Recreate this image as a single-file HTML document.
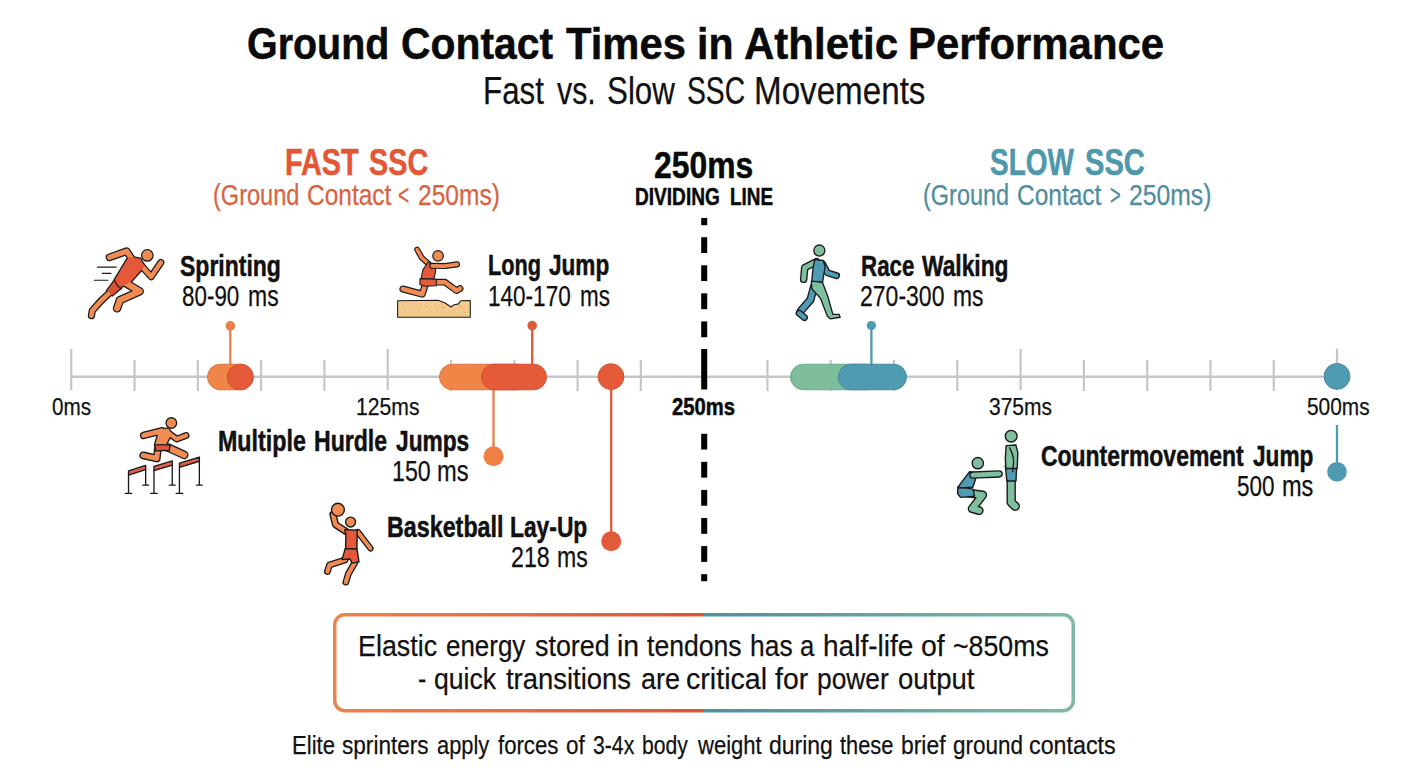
<!DOCTYPE html>
<html><head><meta charset="utf-8"><style>
html,body{margin:0;padding:0;background:#fff;}
body{width:1408px;height:768px;position:relative;overflow:hidden;font-family:"Liberation Sans",sans-serif;}
.t{position:absolute;white-space:nowrap;transform-origin:0 0;}
svg{position:absolute;left:0;top:0;}
</style></head><body>
<svg width="1408" height="768" viewBox="0 0 1408 768"><defs><linearGradient id="bg" x1="333" y1="0" x2="1075" y2="0" gradientUnits="userSpaceOnUse">
<stop offset="0" stop-color="#e8854c"/><stop offset="0.5" stop-color="#d6573f"/><stop offset="0.5" stop-color="#4f8fa3"/><stop offset="1" stop-color="#80b9a2"/></linearGradient></defs>
<rect x="334.75" y="614.75" width="738.5" height="96" rx="10" fill="none" stroke="url(#bg)" stroke-width="3.5"/><line x1="71" y1="376.7" x2="1337" y2="376.7" stroke="#c6c6c6" stroke-width="2.6"/><line x1="71.25" y1="349" x2="71.25" y2="390" stroke="#c6c6c6" stroke-width="2.2"/><line x1="134.54" y1="360" x2="134.54" y2="391" stroke="#c6c6c6" stroke-width="2.2"/><line x1="197.83" y1="360" x2="197.83" y2="391" stroke="#c6c6c6" stroke-width="2.2"/><line x1="261.12" y1="360" x2="261.12" y2="391" stroke="#c6c6c6" stroke-width="2.2"/><line x1="324.41" y1="360" x2="324.41" y2="391" stroke="#c6c6c6" stroke-width="2.2"/><line x1="387.70" y1="349" x2="387.70" y2="390" stroke="#c6c6c6" stroke-width="2.2"/><line x1="450.99" y1="360" x2="450.99" y2="391" stroke="#c6c6c6" stroke-width="2.2"/><line x1="514.28" y1="360" x2="514.28" y2="391" stroke="#c6c6c6" stroke-width="2.2"/><line x1="577.57" y1="360" x2="577.57" y2="391" stroke="#c6c6c6" stroke-width="2.2"/><line x1="640.86" y1="360" x2="640.86" y2="391" stroke="#c6c6c6" stroke-width="2.2"/><line x1="767.44" y1="360" x2="767.44" y2="391" stroke="#c6c6c6" stroke-width="2.2"/><line x1="830.73" y1="360" x2="830.73" y2="391" stroke="#c6c6c6" stroke-width="2.2"/><line x1="894.02" y1="360" x2="894.02" y2="391" stroke="#c6c6c6" stroke-width="2.2"/><line x1="957.31" y1="360" x2="957.31" y2="391" stroke="#c6c6c6" stroke-width="2.2"/><line x1="1020.60" y1="349" x2="1020.60" y2="390" stroke="#c6c6c6" stroke-width="2.2"/><line x1="1083.89" y1="360" x2="1083.89" y2="391" stroke="#c6c6c6" stroke-width="2.2"/><line x1="1147.18" y1="360" x2="1147.18" y2="391" stroke="#c6c6c6" stroke-width="2.2"/><line x1="1210.47" y1="360" x2="1210.47" y2="391" stroke="#c6c6c6" stroke-width="2.2"/><line x1="1273.76" y1="360" x2="1273.76" y2="391" stroke="#c6c6c6" stroke-width="2.2"/><line x1="1337.05" y1="349" x2="1337.05" y2="390" stroke="#c6c6c6" stroke-width="2.2"/><rect x="701.2" y="218" width="6" height="7.2" fill="#000"/><rect x="701.2" y="237.20" width="6" height="15.80" fill="#000"/><rect x="701.2" y="265.28" width="6" height="15.80" fill="#000"/><rect x="701.2" y="293.36" width="6" height="15.80" fill="#000"/><rect x="701.2" y="321.44" width="6" height="15.80" fill="#000"/><rect x="701.2" y="433.76" width="6" height="15.80" fill="#000"/><rect x="701.2" y="461.84" width="6" height="15.80" fill="#000"/><rect x="701.2" y="489.92" width="6" height="15.80" fill="#000"/><rect x="701.2" y="518.00" width="6" height="15.80" fill="#000"/><rect x="701.2" y="546.08" width="6" height="15.80" fill="#000"/><rect x="701.2" y="574.16" width="6" height="7.04" fill="#000"/><rect x="701.2" y="349" width="6" height="40.5" fill="#000"/><line x1="230.3" y1="326" x2="230.3" y2="366" stroke="#e8804a" stroke-width="2.3"/><circle cx="230.3" cy="325.9" r="4.8" fill="#e8804a"/><rect x="207.5" y="364.25" width="45.80000000000001" height="25.5" rx="12.75" fill="#ef8547" stroke="#dc7442" stroke-width="1"/><rect x="227.2" y="364.25" width="26.100000000000023" height="25.5" rx="12.75" fill="#e55a39" stroke="#cf5236" stroke-width="1"/><line x1="532.2" y1="326" x2="532.2" y2="366" stroke="#df5a3a" stroke-width="2.3"/><circle cx="532.2" cy="325.6" r="4.8" fill="#df5a3a"/><line x1="493.5" y1="388" x2="493.5" y2="456" stroke="#e9804a" stroke-width="2.3"/><circle cx="493.5" cy="456.2" r="10" fill="#ef7f45"/><rect x="439.5" y="364.25" width="90" height="25.5" rx="12.75" fill="#ef8547" stroke="#dc7442" stroke-width="1"/><rect x="481.5" y="364.25" width="65" height="25.5" rx="12.75" fill="#e55a39" stroke="#cf5236" stroke-width="1"/><line x1="611.2" y1="388" x2="611.2" y2="541" stroke="#e05a3a" stroke-width="2.3"/><circle cx="611.2" cy="541.2" r="10" fill="#e35a3a"/><circle cx="611" cy="376.6" r="12.9" fill="#e55a39" stroke="#cf5236" stroke-width="1"/><line x1="871.4" y1="326" x2="871.4" y2="366" stroke="#4f9ab0" stroke-width="2.3"/><circle cx="871.4" cy="325.6" r="4.6" fill="#4f9ab0"/><rect x="790.5" y="364.25" width="89" height="25.5" rx="12.75" fill="#7dbd9c" stroke="#6ca98c" stroke-width="1"/><rect x="838.2" y="364.25" width="68.29999999999995" height="25.5" rx="12.75" fill="#4f9bb2" stroke="#468aa0" stroke-width="1"/><line x1="1337" y1="348.6" x2="1337" y2="377" stroke="#c6c6c6" stroke-width="2.2"/><circle cx="1337" cy="376.4" r="12.9" fill="#4f9bb2" stroke="#468aa0" stroke-width="1"/><line x1="1337" y1="425" x2="1337" y2="472" stroke="#4f9ab0" stroke-width="2.3"/><circle cx="1337" cy="471.8" r="9.8" fill="#4f9ab0"/><svg x="85" y="245" width="80" height="80" viewBox="0 0 768 768"><path d="M120 212H300M165 272H250M90 338H220" stroke="#1a1a1a" stroke-width="11" stroke-linecap="round"/><path d="M445 128 L400 60 L235 118" fill="none" stroke="#1a1a1a" stroke-width="74" stroke-linecap="round" stroke-linejoin="round"/><path d="M552 210 L635 305 L728 168" fill="none" stroke="#1a1a1a" stroke-width="68" stroke-linecap="round" stroke-linejoin="round"/><path d="M245 450 L150 540 L70 630 L62 678" fill="none" stroke="#1a1a1a" stroke-width="70" stroke-linecap="round" stroke-linejoin="round"/><polygon points="292,332 350,408 262,482 212,440" fill="#1a1a1a" stroke="#1a1a1a" stroke-width="24" stroke-linejoin="round"/><path d="M385 362 L525 445 L335 530 L308 608" fill="none" stroke="#1a1a1a" stroke-width="82" stroke-linecap="round" stroke-linejoin="round"/><polygon points="420,112 530,132 572,205 442,350 345,402 285,335" fill="#1a1a1a" stroke="#1a1a1a" stroke-width="24" stroke-linejoin="round"/><path d="M445 128 L400 60 L235 118" fill="none" stroke="#f08c52" stroke-width="50" stroke-linecap="round" stroke-linejoin="round"/><path d="M552 210 L635 305 L728 168" fill="none" stroke="#f08c52" stroke-width="44" stroke-linecap="round" stroke-linejoin="round"/><path d="M245 450 L150 540 L70 630 L62 678" fill="none" stroke="#f08c52" stroke-width="46" stroke-linecap="round" stroke-linejoin="round"/><polygon points="292,332 350,408 262,482 212,440" fill="#de5032"/><path d="M385 362 L525 445 L335 530 L308 608" fill="none" stroke="#f08c52" stroke-width="58" stroke-linecap="round" stroke-linejoin="round"/><polygon points="420,112 530,132 572,205 442,350 345,402 285,335" fill="#e5593a"/><circle cx="598" cy="100" r="55" fill="#f08c52" stroke="#1a1a1a" stroke-width="12"/><path d="M288 345 Q305 400 348 420" fill="none" stroke="#1a1a1a" stroke-width="11" stroke-linecap="round"/></svg><svg x="390" y="240" width="90" height="90" viewBox="0 0 768 768"><path d="M65 518 L411 514 L470 538 L521 572 L548 552 L585 545 L602 518 L685 516 L685 660 L65 660 Z" fill="#f3ca8c" stroke="#1a1a1a" stroke-width="9" stroke-linejoin="round"/><circle cx="125" cy="608" r="5" fill="#c8935a"/><circle cx="180" cy="575" r="5" fill="#c8935a"/><circle cx="245" cy="600" r="5" fill="#c8935a"/><circle cx="310" cy="565" r="5" fill="#c8935a"/><circle cx="350" cy="612" r="5" fill="#c8935a"/><circle cx="405" cy="600" r="5" fill="#c8935a"/><circle cx="455" cy="575" r="5" fill="#c8935a"/><circle cx="545" cy="600" r="5" fill="#c8935a"/><circle cx="605" cy="570" r="5" fill="#c8935a"/><circle cx="640" cy="615" r="5" fill="#c8935a"/><path d="M330 205 L270 150 L232 82" fill="none" stroke="#1a1a1a" stroke-width="50" stroke-linecap="round" stroke-linejoin="round"/><path d="M330 205 L270 150 L232 82" fill="none" stroke="#f08c52" stroke-width="30" stroke-linecap="round" stroke-linejoin="round"/><path d="M300 385 L275 462 L110 418" fill="none" stroke="#1a1a1a" stroke-width="60" stroke-linecap="round" stroke-linejoin="round"/><path d="M300 385 L275 462 L110 418" fill="none" stroke="#f08c52" stroke-width="40" stroke-linecap="round" stroke-linejoin="round"/><path d="M380 360 L470 360 L568 432 L598 414" fill="none" stroke="#1a1a1a" stroke-width="58" stroke-linecap="round" stroke-linejoin="round"/><path d="M380 360 L470 360 L568 432 L598 414" fill="none" stroke="#f08c52" stroke-width="38" stroke-linecap="round" stroke-linejoin="round"/><polygon points="325,190 385,210 390,265 375,330 265,330 280,255" fill="#e5593a" stroke="#1a1a1a" stroke-width="9" stroke-linejoin="round"/><polygon points="255,330 395,335 395,390 300,395 255,380" fill="#e5593a" stroke="#1a1a1a" stroke-width="9" stroke-linejoin="round"/><path d="M360 220 L470 222 L572 208" fill="none" stroke="#1a1a1a" stroke-width="52" stroke-linecap="round" stroke-linejoin="round"/><path d="M360 220 L470 222 L572 208" fill="none" stroke="#f08c52" stroke-width="32" stroke-linecap="round" stroke-linejoin="round"/><circle cx="410" cy="135" r="45" fill="#f08c52" stroke="#1a1a1a" stroke-width="10"/></svg><svg x="795" y="240" width="60" height="85" viewBox="0 0 542 768"><path d="M172 420 L140 540 L52 640" fill="none" stroke="#1a1a1a" stroke-width="74" stroke-linecap="round" stroke-linejoin="round"/><path d="M172 420 L140 540 L52 640" fill="none" stroke="#4f9ab4" stroke-width="50" stroke-linecap="round" stroke-linejoin="round"/><path d="M38 662 L85 700" fill="none" stroke="#1a1a1a" stroke-width="64" stroke-linecap="round" stroke-linejoin="round"/><path d="M38 662 L85 700" fill="none" stroke="#4f9ab4" stroke-width="40" stroke-linecap="round" stroke-linejoin="round"/><path d="M195 195 L88 250 L78 355" fill="none" stroke="#1a1a1a" stroke-width="68" stroke-linecap="round" stroke-linejoin="round"/><path d="M195 195 L88 250 L78 355" fill="none" stroke="#7fbf9f" stroke-width="44" stroke-linecap="round" stroke-linejoin="round"/><path d="M250 215 L292 295 L376 322" fill="none" stroke="#1a1a1a" stroke-width="62" stroke-linecap="round" stroke-linejoin="round"/><path d="M250 215 L292 295 L376 322" fill="none" stroke="#4f9ab4" stroke-width="38" stroke-linecap="round" stroke-linejoin="round"/><polygon points="178,178 255,185 272,240 248,385 150,378 160,280" fill="#4f9ab4" stroke="#1a1a1a" stroke-width="12" stroke-linejoin="round"/><polygon points="148,372 248,382 300,520 342,672 398,672 408,698 318,712 292,690 232,530 152,440" fill="#7fbf9f" stroke="#1a1a1a" stroke-width="12" stroke-linejoin="round"/><circle cx="220" cy="95" r="50" fill="#7fbf9f" stroke="#1a1a1a" stroke-width="12"/></svg><svg x="118" y="412" width="90" height="85" viewBox="0 0 813 768"><path d="M95 572V735M65 735H125M250 522V660M223 660H277" stroke="#1a1a1a" stroke-width="12" stroke-linecap="round"/><polygon points="95,532 250,482 250,520 95,570" fill="#e0604a" stroke="#1a1a1a" stroke-width="12" stroke-linejoin="round"/><path d="M325 532V735M295 735H355M490 482V660M463 660H517" stroke="#1a1a1a" stroke-width="12" stroke-linecap="round"/><polygon points="325,492 490,442 490,480 325,530" fill="#e0604a" stroke="#1a1a1a" stroke-width="12" stroke-linejoin="round"/><path d="M555 502V735M525 735H585M735 447V660M708 660H762" stroke="#1a1a1a" stroke-width="12" stroke-linecap="round"/><polygon points="555,462 735,407 735,445 555,500" fill="#e0604a" stroke="#1a1a1a" stroke-width="12" stroke-linejoin="round"/><path d="M395 170 L232 212" fill="none" stroke="#1a1a1a" stroke-width="68" stroke-linecap="round" stroke-linejoin="round"/><path d="M470 200 L530 245 L615 212" fill="none" stroke="#1a1a1a" stroke-width="62" stroke-linecap="round" stroke-linejoin="round"/><path d="M360 330 L350 420 L228 392" fill="none" stroke="#1a1a1a" stroke-width="70" stroke-linecap="round" stroke-linejoin="round"/><path d="M450 320 L598 388" fill="none" stroke="#1a1a1a" stroke-width="78" stroke-linecap="round" stroke-linejoin="round"/><polygon points="322,168 455,150 484,195 432,295 335,295 360,215" fill="#1a1a1a" stroke="#1a1a1a" stroke-width="24" stroke-linejoin="round"/><path d="M395 170 L232 212" fill="none" stroke="#f08c52" stroke-width="44" stroke-linecap="round" stroke-linejoin="round"/><path d="M470 200 L530 245 L615 212" fill="none" stroke="#f08c52" stroke-width="38" stroke-linecap="round" stroke-linejoin="round"/><path d="M360 330 L350 420 L228 392" fill="none" stroke="#f08c52" stroke-width="46" stroke-linecap="round" stroke-linejoin="round"/><path d="M450 320 L598 388" fill="none" stroke="#f08c52" stroke-width="54" stroke-linecap="round" stroke-linejoin="round"/><polygon points="322,168 455,150 484,195 432,295 335,295 360,215" fill="#f08c52"/><path d="M332 300 Q400 290 472 302 L462 350 Q400 345 340 352 Z" fill="#e0553a" stroke="#1a1a1a" stroke-width="12" stroke-linejoin="round"/><circle cx="482" cy="100" r="48" fill="#f08c52" stroke="#1a1a1a" stroke-width="12"/></svg><svg x="318" y="498" width="60" height="90" viewBox="0 0 512 768"><path d="M230 530 L98 572 L80 628" fill="none" stroke="#1a1a1a" stroke-width="58" stroke-linecap="round" stroke-linejoin="round"/><path d="M230 530 L98 572 L80 628" fill="none" stroke="#f08c52" stroke-width="36" stroke-linecap="round" stroke-linejoin="round"/><path d="M315 550 L258 650 L238 718" fill="none" stroke="#1a1a1a" stroke-width="58" stroke-linecap="round" stroke-linejoin="round"/><path d="M315 550 L258 650 L238 718" fill="none" stroke="#f08c52" stroke-width="36" stroke-linecap="round" stroke-linejoin="round"/><path d="M238 285 L150 228 L128 142" fill="none" stroke="#1a1a1a" stroke-width="62" stroke-linecap="round" stroke-linejoin="round"/><path d="M238 285 L150 228 L128 142" fill="none" stroke="#f08c52" stroke-width="38" stroke-linecap="round" stroke-linejoin="round"/><path d="M340 290 L448 430" fill="none" stroke="#1a1a1a" stroke-width="54" stroke-linecap="round" stroke-linejoin="round"/><path d="M340 290 L448 430" fill="none" stroke="#f08c52" stroke-width="32" stroke-linecap="round" stroke-linejoin="round"/><circle cx="170" cy="100" r="55" fill="#f08c52" stroke="#1a1a1a" stroke-width="12"/><circle cx="278" cy="205" r="42" fill="#f08c52" stroke="#1a1a1a" stroke-width="12"/><polygon points="228,270 335,275 332,435 235,435 238,320" fill="#e5593a" stroke="#1a1a1a" stroke-width="12" stroke-linejoin="round"/><polygon points="232,432 332,435 350,545 290,556 272,520 205,526" fill="#e5593a" stroke="#1a1a1a" stroke-width="12" stroke-linejoin="round"/></svg><svg x="952" y="428" width="75" height="90" viewBox="0 0 640 768"><path d="M95 550 L262 572 L172 688 L232 705" fill="none" stroke="#1a1a1a" stroke-width="76" stroke-linecap="round" stroke-linejoin="round"/><path d="M95 550 L262 572 L172 688 L232 705" fill="none" stroke="#7fbf9f" stroke-width="52" stroke-linecap="round" stroke-linejoin="round"/><polygon points="50,500 180,522 192,582 72,592 48,560" fill="#4f9ab4" stroke="#1a1a1a" stroke-width="12" stroke-linejoin="round"/><polygon points="150,372 218,385 178,505 58,512 60,492" fill="#4f9ab4" stroke="#1a1a1a" stroke-width="12" stroke-linejoin="round"/><path d="M178 402 L402 392" fill="none" stroke="#1a1a1a" stroke-width="64" stroke-linecap="round" stroke-linejoin="round"/><path d="M178 402 L402 392" fill="none" stroke="#7fbf9f" stroke-width="40" stroke-linecap="round" stroke-linejoin="round"/><circle cx="220" cy="300" r="48" fill="#7fbf9f" stroke="#1a1a1a" stroke-width="12"/><path d="M505 450 L505 635 L540 668" fill="none" stroke="#1a1a1a" stroke-width="80" stroke-linecap="round" stroke-linejoin="round"/><path d="M505 450 L505 635 L540 668" fill="none" stroke="#7fbf9f" stroke-width="56" stroke-linecap="round" stroke-linejoin="round"/><polygon points="455,320 552,320 546,452 468,452" fill="#4f9ab4" stroke="#1a1a1a" stroke-width="12" stroke-linejoin="round"/><polygon points="462,150 545,145 562,210 556,345 460,345 455,260" fill="#7fbf9f" stroke="#1a1a1a" stroke-width="12" stroke-linejoin="round"/><path d="M492 170 Q530 240 525 300 Q522 345 518 372" fill="none" stroke="#1a1a1a" stroke-width="11" stroke-linecap="round"/><circle cx="505" cy="70" r="50" fill="#7fbf9f" stroke="#1a1a1a" stroke-width="12"/></svg></svg>
<div class="t" style="left:247.04px;top:20.90px;font-size:45.0px;line-height:45.0px;font-weight:700;color:#0a0a0a;transform:scaleX(0.8760);-webkit-text-stroke:0.5px #0a0a0a">Ground</div>
<div class="t" style="left:401.22px;top:20.90px;font-size:45.0px;line-height:45.0px;font-weight:700;color:#0a0a0a;transform:scaleX(0.9077);-webkit-text-stroke:0.5px #0a0a0a">Contact</div>
<div class="t" style="left:565.63px;top:20.90px;font-size:45.0px;line-height:45.0px;font-weight:700;color:#0a0a0a;transform:scaleX(0.9276);-webkit-text-stroke:0.5px #0a0a0a">Times</div>
<div class="t" style="left:697.39px;top:20.90px;font-size:45.0px;line-height:45.0px;font-weight:700;color:#0a0a0a;transform:scaleX(0.9114);-webkit-text-stroke:0.5px #0a0a0a">in</div>
<div class="t" style="left:743.80px;top:20.90px;font-size:45.0px;line-height:45.0px;font-weight:700;color:#0a0a0a;transform:scaleX(0.9334);-webkit-text-stroke:0.5px #0a0a0a">Athletic</div>
<div class="t" style="left:908.14px;top:20.90px;font-size:45.0px;line-height:45.0px;font-weight:700;color:#0a0a0a;transform:scaleX(0.9308);-webkit-text-stroke:0.5px #0a0a0a">Performance</div>
<div class="t" style="left:483.40px;top:71.30px;font-size:39.2px;line-height:39.2px;font-weight:400;color:#111;transform:scaleX(0.7992);-webkit-text-stroke:0.25px #111">Fast</div>
<div class="t" style="left:556.90px;top:71.30px;font-size:39.2px;line-height:39.2px;font-weight:400;color:#111;transform:scaleX(0.7736);-webkit-text-stroke:0.25px #111">vs.</div>
<div class="t" style="left:606.70px;top:71.30px;font-size:39.2px;line-height:39.2px;font-weight:400;color:#111;transform:scaleX(0.7987);-webkit-text-stroke:0.25px #111">Slow</div>
<div class="t" style="left:686.77px;top:71.30px;font-size:39.2px;line-height:39.2px;font-weight:400;color:#111;transform:scaleX(0.7221);-webkit-text-stroke:0.25px #111">SSC</div>
<div class="t" style="left:754.37px;top:71.30px;font-size:39.2px;line-height:39.2px;font-weight:400;color:#111;transform:scaleX(0.8464);-webkit-text-stroke:0.25px #111">Movements</div>
<div class="t" style="left:285.15px;top:143.80px;font-size:37.4px;line-height:37.4px;font-weight:700;color:#e35736;transform:scaleX(0.7706);-webkit-text-stroke:0.5px #e35736">FAST</div>
<div class="t" style="left:368.62px;top:143.80px;font-size:37.4px;line-height:37.4px;font-weight:700;color:#e35736;transform:scaleX(0.7695);-webkit-text-stroke:0.5px #e35736">SSC</div>
<div class="t" style="left:212.59px;top:180.80px;font-size:29.0px;line-height:29.0px;font-weight:400;color:#d8643f;transform:scaleX(0.8124);-webkit-text-stroke:0.25px #d8643f">(Ground</div>
<div class="t" style="left:306.56px;top:180.80px;font-size:29.0px;line-height:29.0px;font-weight:400;color:#d8643f;transform:scaleX(0.8443);-webkit-text-stroke:0.25px #d8643f">Contact</div>
<div class="t" style="left:398.42px;top:180.80px;font-size:29.0px;line-height:29.0px;font-weight:400;color:#d8643f;transform:scaleX(0.6623);-webkit-text-stroke:0.25px #d8643f">&lt;</div>
<div class="t" style="left:417.96px;top:180.80px;font-size:29.0px;line-height:29.0px;font-weight:400;color:#d8643f;transform:scaleX(0.8474);-webkit-text-stroke:0.25px #d8643f">250ms)</div>
<div class="t" style="left:654.46px;top:146.50px;font-size:37.5px;line-height:37.5px;font-weight:700;color:#0a0a0a;transform:scaleX(0.8500);-webkit-text-stroke:0.5px #0a0a0a">250ms</div>
<div class="t" style="left:635.40px;top:185.00px;font-size:24.0px;line-height:24.0px;font-weight:700;color:#0a0a0a;transform:scaleX(0.7952);-webkit-text-stroke:0.5px #0a0a0a">DIVIDING</div>
<div class="t" style="left:729.51px;top:185.00px;font-size:24.0px;line-height:24.0px;font-weight:700;color:#0a0a0a;transform:scaleX(0.7866);-webkit-text-stroke:0.5px #0a0a0a">LINE</div>
<div class="t" style="left:990.24px;top:143.80px;font-size:37.4px;line-height:37.4px;font-weight:700;color:#4f97ab;transform:scaleX(0.7476);-webkit-text-stroke:0.5px #4f97ab">SLOW</div>
<div class="t" style="left:1085.22px;top:143.80px;font-size:37.4px;line-height:37.4px;font-weight:700;color:#4f97ab;transform:scaleX(0.7774);-webkit-text-stroke:0.5px #4f97ab">SSC</div>
<div class="t" style="left:923.39px;top:180.80px;font-size:29.0px;line-height:29.0px;font-weight:400;color:#4f8d9e;transform:scaleX(0.8095);-webkit-text-stroke:0.25px #4f8d9e">(Ground</div>
<div class="t" style="left:1017.36px;top:180.80px;font-size:29.0px;line-height:29.0px;font-weight:400;color:#4f8d9e;transform:scaleX(0.8443);-webkit-text-stroke:0.25px #4f8d9e">Contact</div>
<div class="t" style="left:1110.25px;top:180.80px;font-size:29.0px;line-height:29.0px;font-weight:400;color:#4f8d9e;transform:scaleX(0.6295);-webkit-text-stroke:0.25px #4f8d9e">&gt;</div>
<div class="t" style="left:1129.25px;top:180.80px;font-size:29.0px;line-height:29.0px;font-weight:400;color:#4f8d9e;transform:scaleX(0.8527);-webkit-text-stroke:0.25px #4f8d9e">250ms)</div>
<div class="t" style="left:180.40px;top:251.50px;font-size:28.6px;line-height:28.6px;font-weight:700;color:#111;transform:scaleX(0.8040);-webkit-text-stroke:0.5px #111">Sprinting</div>
<div class="t" style="left:182.11px;top:282.00px;font-size:28.6px;line-height:28.6px;font-weight:400;color:#111;transform:scaleX(0.7834);-webkit-text-stroke:0.25px #111">80-90</div>
<div class="t" style="left:248.10px;top:282.00px;font-size:28.6px;line-height:28.6px;font-weight:400;color:#111;transform:scaleX(0.8039);-webkit-text-stroke:0.25px #111">ms</div>
<div class="t" style="left:487.63px;top:251.40px;font-size:28.6px;line-height:28.6px;font-weight:700;color:#111;transform:scaleX(0.7585);-webkit-text-stroke:0.5px #111">Long</div>
<div class="t" style="left:549.30px;top:251.40px;font-size:28.6px;line-height:28.6px;font-weight:700;color:#111;transform:scaleX(0.7891);-webkit-text-stroke:0.5px #111">Jump</div>
<div class="t" style="left:487.92px;top:282.00px;font-size:28.6px;line-height:28.6px;font-weight:400;color:#111;transform:scaleX(0.7880);-webkit-text-stroke:0.25px #111">140-170</div>
<div class="t" style="left:580.21px;top:282.00px;font-size:28.6px;line-height:28.6px;font-weight:400;color:#111;transform:scaleX(0.7850);-webkit-text-stroke:0.25px #111">ms</div>
<div class="t" style="left:860.51px;top:251.70px;font-size:28.6px;line-height:28.6px;font-weight:700;color:#111;transform:scaleX(0.7811);-webkit-text-stroke:0.5px #111">Race</div>
<div class="t" style="left:922.40px;top:251.70px;font-size:28.6px;line-height:28.6px;font-weight:700;color:#111;transform:scaleX(0.7966);-webkit-text-stroke:0.5px #111">Walking</div>
<div class="t" style="left:860.40px;top:282.00px;font-size:28.6px;line-height:28.6px;font-weight:400;color:#111;transform:scaleX(0.8046);-webkit-text-stroke:0.25px #111">270-300</div>
<div class="t" style="left:953.10px;top:282.00px;font-size:28.6px;line-height:28.6px;font-weight:400;color:#111;transform:scaleX(0.7985);-webkit-text-stroke:0.25px #111">ms</div>
<div class="t" style="left:217.59px;top:426.90px;font-size:28.6px;line-height:28.6px;font-weight:700;color:#111;transform:scaleX(0.8133);-webkit-text-stroke:0.5px #111">Multiple</div>
<div class="t" style="left:313.90px;top:426.90px;font-size:28.6px;line-height:28.6px;font-weight:700;color:#111;transform:scaleX(0.8065);-webkit-text-stroke:0.5px #111">Hurdle</div>
<div class="t" style="left:396.20px;top:426.90px;font-size:28.6px;line-height:28.6px;font-weight:700;color:#111;transform:scaleX(0.7945);-webkit-text-stroke:0.5px #111">Jumps</div>
<div class="t" style="left:392.48px;top:457.40px;font-size:28.6px;line-height:28.6px;font-weight:400;color:#111;transform:scaleX(0.8101);-webkit-text-stroke:0.25px #111">150</div>
<div class="t" style="left:437.48px;top:457.40px;font-size:28.6px;line-height:28.6px;font-weight:400;color:#111;transform:scaleX(0.8282);-webkit-text-stroke:0.25px #111">ms</div>
<div class="t" style="left:386.79px;top:512.60px;font-size:28.6px;line-height:28.6px;font-weight:700;color:#111;transform:scaleX(0.8144);-webkit-text-stroke:0.5px #111">Basketball</div>
<div class="t" style="left:510.30px;top:512.60px;font-size:28.6px;line-height:28.6px;font-weight:700;color:#111;transform:scaleX(0.7974);-webkit-text-stroke:0.5px #111">Lay-Up</div>
<div class="t" style="left:510.69px;top:543.00px;font-size:28.6px;line-height:28.6px;font-weight:400;color:#111;transform:scaleX(0.8110);-webkit-text-stroke:0.25px #111">218</div>
<div class="t" style="left:556.59px;top:543.00px;font-size:28.6px;line-height:28.6px;font-weight:400;color:#111;transform:scaleX(0.8066);-webkit-text-stroke:0.25px #111">ms</div>
<div class="t" style="left:1040.80px;top:442.20px;font-size:28.6px;line-height:28.6px;font-weight:700;color:#111;transform:scaleX(0.8025);-webkit-text-stroke:0.5px #111">Countermovement</div>
<div class="t" style="left:1252.90px;top:442.20px;font-size:28.6px;line-height:28.6px;font-weight:700;color:#111;transform:scaleX(0.7917);-webkit-text-stroke:0.5px #111">Jump</div>
<div class="t" style="left:1237.11px;top:472.30px;font-size:28.6px;line-height:28.6px;font-weight:400;color:#111;transform:scaleX(0.7860);-webkit-text-stroke:0.25px #111">500</div>
<div class="t" style="left:1281.78px;top:472.30px;font-size:28.6px;line-height:28.6px;font-weight:400;color:#111;transform:scaleX(0.8228);-webkit-text-stroke:0.25px #111">ms</div>
<div class="t" style="left:52.31px;top:395.70px;font-size:23.6px;line-height:23.6px;font-weight:400;color:#111;transform:scaleX(0.8768);-webkit-text-stroke:0.25px #111">0ms</div>
<div class="t" style="left:356.12px;top:395.50px;font-size:23.6px;line-height:23.6px;font-weight:400;color:#111;transform:scaleX(0.8965);-webkit-text-stroke:0.25px #111">125ms</div>
<div class="t" style="left:672.41px;top:395.50px;font-size:23.6px;line-height:23.6px;font-weight:700;color:#0a0a0a;transform:scaleX(0.8572);-webkit-text-stroke:0.5px #0a0a0a">250ms</div>
<div class="t" style="left:989.01px;top:395.50px;font-size:23.6px;line-height:23.6px;font-weight:400;color:#111;transform:scaleX(0.8894);-webkit-text-stroke:0.25px #111">375ms</div>
<div class="t" style="left:1306.61px;top:395.80px;font-size:23.6px;line-height:23.6px;font-weight:400;color:#111;transform:scaleX(0.8837);-webkit-text-stroke:0.25px #111">500ms</div>
<div class="t" style="left:358.24px;top:630.30px;font-size:30.4px;line-height:30.4px;font-weight:400;color:#111;transform:scaleX(0.8839);-webkit-text-stroke:0.25px #111">Elastic</div>
<div class="t" style="left:445.55px;top:630.30px;font-size:30.4px;line-height:30.4px;font-weight:400;color:#111;transform:scaleX(0.8529);-webkit-text-stroke:0.25px #111">energy</div>
<div class="t" style="left:535.01px;top:630.30px;font-size:30.4px;line-height:30.4px;font-weight:400;color:#111;transform:scaleX(0.8839);-webkit-text-stroke:0.25px #111">stored</div>
<div class="t" style="left:616.65px;top:630.30px;font-size:30.4px;line-height:30.4px;font-weight:400;color:#111;transform:scaleX(0.9349);-webkit-text-stroke:0.25px #111">in</div>
<div class="t" style="left:646.61px;top:630.30px;font-size:30.4px;line-height:30.4px;font-weight:400;color:#111;transform:scaleX(0.8743);-webkit-text-stroke:0.25px #111">tendons</div>
<div class="t" style="left:749.67px;top:630.30px;font-size:30.4px;line-height:30.4px;font-weight:400;color:#111;transform:scaleX(0.8692);-webkit-text-stroke:0.25px #111">has</div>
<div class="t" style="left:799.96px;top:630.30px;font-size:30.4px;line-height:30.4px;font-weight:400;color:#111;transform:scaleX(0.8431);-webkit-text-stroke:0.25px #111">a</div>
<div class="t" style="left:823.37px;top:630.30px;font-size:30.4px;line-height:30.4px;font-weight:400;color:#111;transform:scaleX(0.9222);-webkit-text-stroke:0.25px #111">half-life</div>
<div class="t" style="left:921.38px;top:630.30px;font-size:30.4px;line-height:30.4px;font-weight:400;color:#111;transform:scaleX(0.9383);-webkit-text-stroke:0.25px #111">of</div>
<div class="t" style="left:953.03px;top:630.30px;font-size:30.4px;line-height:30.4px;font-weight:400;color:#111;transform:scaleX(0.8795);-webkit-text-stroke:0.25px #111">~850ms</div>
<div class="t" style="left:418.28px;top:662.90px;font-size:30.4px;line-height:30.4px;font-weight:400;color:#111;transform:scaleX(0.8242);-webkit-text-stroke:0.25px #111">-</div>
<div class="t" style="left:433.63px;top:662.90px;font-size:30.4px;line-height:30.4px;font-weight:400;color:#111;transform:scaleX(0.8760);-webkit-text-stroke:0.25px #111">quick</div>
<div class="t" style="left:506.11px;top:662.90px;font-size:30.4px;line-height:30.4px;font-weight:400;color:#111;transform:scaleX(0.9028);-webkit-text-stroke:0.25px #111">transitions</div>
<div class="t" style="left:641.42px;top:662.90px;font-size:30.4px;line-height:30.4px;font-weight:400;color:#111;transform:scaleX(0.8871);-webkit-text-stroke:0.25px #111">are</div>
<div class="t" style="left:686.18px;top:662.90px;font-size:30.4px;line-height:30.4px;font-weight:400;color:#111;transform:scaleX(0.9425);-webkit-text-stroke:0.25px #111">critical</div>
<div class="t" style="left:775.32px;top:662.90px;font-size:30.4px;line-height:30.4px;font-weight:400;color:#111;transform:scaleX(0.9327);-webkit-text-stroke:0.25px #111">for</div>
<div class="t" style="left:817.24px;top:662.90px;font-size:30.4px;line-height:30.4px;font-weight:400;color:#111;transform:scaleX(0.8669);-webkit-text-stroke:0.25px #111">power</div>
<div class="t" style="left:898.01px;top:662.90px;font-size:30.4px;line-height:30.4px;font-weight:400;color:#111;transform:scaleX(0.9051);-webkit-text-stroke:0.25px #111">output</div>
<div class="t" style="left:291.52px;top:731.50px;font-size:26.2px;line-height:26.2px;font-weight:400;color:#111;transform:scaleX(0.8452);-webkit-text-stroke:0.25px #111">Elite</div>
<div class="t" style="left:342.11px;top:731.50px;font-size:26.2px;line-height:26.2px;font-weight:400;color:#111;transform:scaleX(0.8626);-webkit-text-stroke:0.25px #111">sprinters</div>
<div class="t" style="left:436.57px;top:731.50px;font-size:26.2px;line-height:26.2px;font-weight:400;color:#111;transform:scaleX(0.8349);-webkit-text-stroke:0.25px #111">apply</div>
<div class="t" style="left:497.91px;top:731.50px;font-size:26.2px;line-height:26.2px;font-weight:400;color:#111;transform:scaleX(0.8465);-webkit-text-stroke:0.25px #111">forces</div>
<div class="t" style="left:566.15px;top:731.50px;font-size:26.2px;line-height:26.2px;font-weight:400;color:#111;transform:scaleX(0.8572);-webkit-text-stroke:0.25px #111">of</div>
<div class="t" style="left:592.69px;top:731.50px;font-size:26.2px;line-height:26.2px;font-weight:400;color:#111;transform:scaleX(0.8104);-webkit-text-stroke:0.25px #111">3-4x</div>
<div class="t" style="left:641.99px;top:731.50px;font-size:26.2px;line-height:26.2px;font-weight:400;color:#111;transform:scaleX(0.8087);-webkit-text-stroke:0.25px #111">body</div>
<div class="t" style="left:697.55px;top:731.50px;font-size:26.2px;line-height:26.2px;font-weight:400;color:#111;transform:scaleX(0.8420);-webkit-text-stroke:0.25px #111">weight</div>
<div class="t" style="left:769.03px;top:731.50px;font-size:26.2px;line-height:26.2px;font-weight:400;color:#111;transform:scaleX(0.8768);-webkit-text-stroke:0.25px #111">during</div>
<div class="t" style="left:840.30px;top:731.50px;font-size:26.2px;line-height:26.2px;font-weight:400;color:#111;transform:scaleX(0.8330);-webkit-text-stroke:0.25px #111">these</div>
<div class="t" style="left:901.14px;top:731.50px;font-size:26.2px;line-height:26.2px;font-weight:400;color:#111;transform:scaleX(0.8740);-webkit-text-stroke:0.25px #111">brief</div>
<div class="t" style="left:952.65px;top:731.50px;font-size:26.2px;line-height:26.2px;font-weight:400;color:#111;transform:scaleX(0.8583);-webkit-text-stroke:0.25px #111">ground</div>
<div class="t" style="left:1029.22px;top:731.50px;font-size:26.2px;line-height:26.2px;font-weight:400;color:#111;transform:scaleX(0.8885);-webkit-text-stroke:0.25px #111">contacts</div>
</body></html>
